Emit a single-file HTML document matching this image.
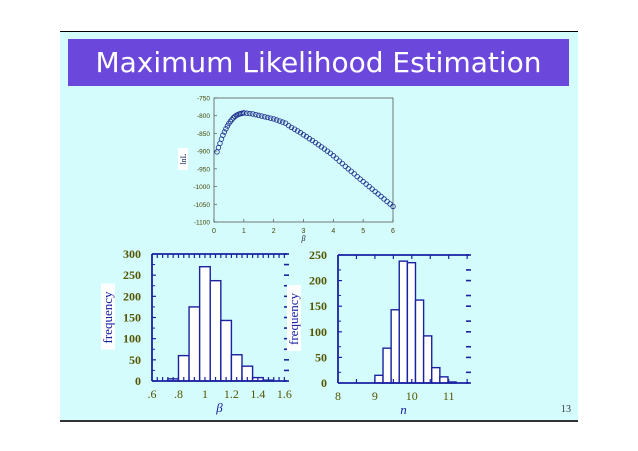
<!DOCTYPE html>
<html><head><meta charset="utf-8"><style>
body{margin:0;background:#fff;width:638px;height:451px;overflow:hidden;font-family:"Liberation Serif",serif}
#panel{position:absolute;left:60px;top:31px;width:518px;height:388px;background:#d4fcfc;border-top:1px solid #000;border-bottom:2px solid #333}
#title{position:absolute;left:68px;top:39px;width:501px;height:47px;background:#6b47dc;color:#fff;font-family:"DejaVu Sans","Liberation Sans",sans-serif;font-size:28px;line-height:47px;text-align:center}
#pg{position:absolute;left:561px;top:404px;font-size:10px;color:#333}
svg{position:absolute;left:0;top:0}
</style></head><body>
<div id="panel"></div>
<div id="title">Maximum Likelihood Estimation</div>
<div id="pg">13</div>
<svg id="s" width="638" height="451"></svg>
<script>
const lnX=[0.1,0.15,0.2,0.25,0.3,0.35,0.4,0.45,0.5,0.55,0.6,0.65,0.7,0.75,0.8,0.85,0.9,0.95,1.0,1.1,1.2,1.3,1.4,1.5,1.6,1.7,1.8,1.9,2.0,2.1,2.2,2.3,2.4,2.5,2.6,2.7,2.8,2.9,3.0,3.1,3.2,3.3,3.4,3.5,3.6,3.7,3.8,3.9,4.0,4.1,4.2,4.3,4.4,4.5,4.6,4.7,4.8,4.9,5.0,5.1,5.2,5.3,5.4,5.5,5.6,5.7,5.8,5.9,6.0];
const lnY=[-902,-890,-878,-866,-855,-846,-837,-829,-822,-816,-811,-806,-802,-799,-797,-795,-794,-793,-792,-793,-794,-795,-797,-799,-801,-803,-805,-807,-809,-812,-815,-818,-821,-828,-833,-838,-843,-848,-854,-859,-865,-870,-876,-882,-888,-894,-900,-906,-913,-920,-928,-935,-943,-950,-957,-964,-972,-979,-986,-993,-1000,-1007,-1014,-1021,-1028,-1035,-1042,-1049,-1056];
const topXTicks=[0,1,2,3,4,5,6];
const topYTicks=[-750,-800,-850,-900,-950,-1000,-1050,-1100];
const bEdges=[0.72,0.80,0.88,0.96,1.04,1.12,1.20,1.28,1.36,1.44,1.52];
const bCounts=[5,60,175,270,237,143,62,35,8,2];
const bXTicks=[0.6,0.8,1,1.2,1.4,1.6];
const bXLabels=[".6",".8","1","1.2","1.4","1.6"];
const bYTicks=[0,50,100,150,200,250,300];
const nEdges=[9.0,9.22,9.44,9.66,9.88,10.1,10.32,10.54,10.76,10.98,11.2];
const nCounts=[15,68,143,238,235,162,92,30,12,2];
const nXTicks=[8,9,10,11];
const nYTicks=[0,50,100,150,200,250];

const s=document.getElementById('s');
const NS='http://www.w3.org/2000/svg';
function mk(t,a,txt){const e=document.createElementNS(NS,t);for(const k in a)e.setAttribute(k,a[k]);if(txt!==undefined)e.textContent=txt;s.appendChild(e);return e;}
function lin(d0,d1,r0,r1){return v=>r0+(v-d0)/(d1-d0)*(r1-r0);}

// top chart
const tx=lin(0,6,214,393), ty=lin(-750,-1100,98,222);
let e=mk('rect',{x:214,y:98,width:179,height:124,fill:'none',stroke:'#555','stroke-width':0.8});

topXTicks.forEach(v=>{mk('line',{x1:tx(v),y1:222,x2:tx(v),y2:219,stroke:'#555','stroke-width':0.7});
 e=mk('text',{x:tx(v),y:233,'font-size':7,'text-anchor':'middle',fill:'#444400','font-family':'Liberation Sans, sans-serif'},v);
 });
topYTicks.forEach(v=>{mk('line',{x1:214,y1:ty(v),x2:217,y2:ty(v),stroke:'#555','stroke-width':0.7});
 e=mk('text',{x:210,y:ty(v)+2.5,'font-size':6.5,'text-anchor':'end',fill:'#444400','font-family':'Liberation Sans, sans-serif'},v);
 });
e=mk('text',{x:tx(3),y:241,'font-size':8,'font-style':'italic','text-anchor':'middle',fill:'#223'},'β');

mk('rect',{x:178,y:148,width:10,height:22,fill:'#fff'});
e=mk('text',{x:0,y:0,'font-size':8,fill:'#112266','transform':'translate(186,159) rotate(-90)','text-anchor':'middle'},'lnL');

lnX.forEach((x,i)=>{e=mk('circle',{cx:tx(x),cy:ty(lnY[i]),r:2.3,fill:'none',stroke:'#1a2a8a','stroke-width':0.8});
 });

function hist(name,edges,counts,x0,x1,px0,px1,ymax,py0,py1,xt,xl,yt,xtitle,minor){
 const X=lin(x0,x1,px0,px1),Y=lin(0,ymax,py0,py1);
 const col='#1a22a0';
 edges.slice(0,-1).forEach((ed,i)=>{e=mk('rect',{x:X(ed),y:Y(counts[i]),width:X(edges[i+1])-X(ed),height:Y(0)-Y(counts[i]),fill:'#fff',stroke:col,'stroke-width':1.4});
  });
 mk('line',{x1:px0,y1:py0,x2:px1,y2:py0,stroke:col,'stroke-width':1.8});
 mk('line',{x1:px0,y1:py1,x2:px1,y2:py1,stroke:col,'stroke-width':1.8});
 mk('line',{x1:px0,y1:py0,x2:px0,y2:py1,stroke:col,'stroke-width':1.8});
 for(let v=x0;v<=x1+1e-9;v+=minor){mk('line',{x1:X(v),y1:py0,x2:X(v),y2:py0-4,stroke:col,'stroke-width':1.2});mk('line',{x1:X(v),y1:py1,x2:X(v),y2:py1+4,stroke:col,'stroke-width':1.2});}
 xt.forEach((v,i)=>{e=mk('text',{x:X(v),y:py0+17,'font-size':12,'text-anchor':'middle',fill:'#555500'},xl[i]);
  });
 yt.forEach(v=>{mk('line',{x1:px0,y1:Y(v),x2:px0+4,y2:Y(v),stroke:col,'stroke-width':1.2});
  mk('line',{x1:px1-3,y1:Y(v),x2:px1+2,y2:Y(v),stroke:col,'stroke-width':1.6});
  if(v+ymax/12<=ymax){mk('line',{x1:px0,y1:Y(v+ymax/12),x2:px0+3,y2:Y(v+ymax/12),stroke:col,'stroke-width':1});mk('line',{x1:px1-3,y1:Y(v+ymax/12),x2:px1+2,y2:Y(v+ymax/12),stroke:col,'stroke-width':1.6});}
  e=mk('text',{x:px0-11,y:Y(v)+4,'font-size':12,'font-weight':'bold','text-anchor':'end',fill:'#555500'},v);
  });
 e=mk('text',{x:(px0+px1)/2,y:py0+31,'font-size':13,'font-style':'italic','text-anchor':'middle',fill:'#1a22a0'},xtitle);
 
 const lx=px0-44;
 mk('rect',{x:lx-7,y:(py0+py1)/2-34,width:14,height:66,fill:'#fff'});
 e=mk('text',{x:0,y:0,'font-size':13,fill:'#1a22a0','text-anchor':'middle',transform:`translate(${lx+4},${(py0+py1)/2}) rotate(-90)`},'frequency');
 
}
hist('beta-hist',bEdges,bCounts,0.6,1.62,152,287,300,381,254,bXTicks,bXLabels,bYTicks,'β',0.04);
hist('n-hist',nEdges,nCounts,8,11.55,338,469,250,383,255,nXTicks,nXTicks.map(String),nYTicks,'n',0.5);
</script>
</body></html>
